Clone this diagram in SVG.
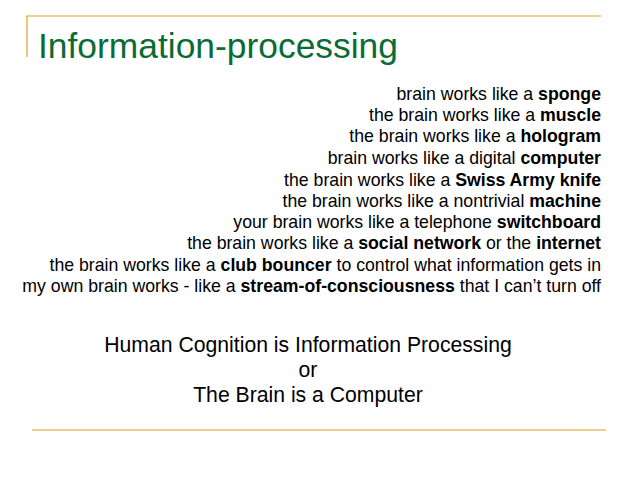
<svg xmlns="http://www.w3.org/2000/svg" width="638" height="478" viewBox="0 0 638 478">
<style>
.r{font-family:"Liberation Sans",Arial,sans-serif;font-size:17.7px;fill:#000;text-anchor:end}
.c{font-family:"Liberation Sans",Arial,sans-serif;font-size:21.2px;fill:#000;text-anchor:middle}
.g{stroke:#e0a020;stroke-width:1.2}
</style>
<rect width="638" height="478" fill="#fff"/>
<line class="g" x1="26" y1="16" x2="601" y2="16"/>
<line class="g" x1="27" y1="16" x2="27" y2="57"/>
<line class="g" x1="32" y1="430" x2="606" y2="430"/>
<text x="38" y="58" font-family="Liberation Sans,Arial,sans-serif" font-size="35.4" fill="#0b6b34">Information-processing</text>
<g id="lines">
<text class="r" x="601" y="100">brain works like a <tspan font-weight="bold">sponge</tspan></text>
<text class="r" x="601" y="121">the brain works like a <tspan font-weight="bold">muscle</tspan> </text>
<text class="r" x="601" y="142">the brain works like a <tspan font-weight="bold">hologram</tspan></text>
<text class="r" x="601" y="164">brain works like a digital <tspan font-weight="bold">computer</tspan></text>
<text class="r" x="601" y="186">the brain works like a <tspan font-weight="bold">Swiss Army knife</tspan></text>
<text class="r" x="601" y="207">the brain works like a nontrivial <tspan font-weight="bold">machine</tspan></text>
<text class="r" x="601" y="228">your brain works like a telephone <tspan font-weight="bold">switchboard</tspan></text>
<text class="r" x="601" y="249">the brain works like a <tspan font-weight="bold">social network</tspan> or the <tspan font-weight="bold">internet</tspan></text>
<text class="r" x="601" y="271">the brain works like a <tspan font-weight="bold">club bouncer</tspan> to control what information gets in</text>
<text class="r" x="601" y="292">my own brain works - like a <tspan font-weight="bold">stream-of-consciousness</tspan> that I can’t turn off</text>
</g>
<text class="c" x="308" y="352">Human Cognition is Information Processing</text>
<text class="c" x="308" y="377">or</text>
<text class="c" x="308" y="402">The Brain is a Computer</text>
</svg>
